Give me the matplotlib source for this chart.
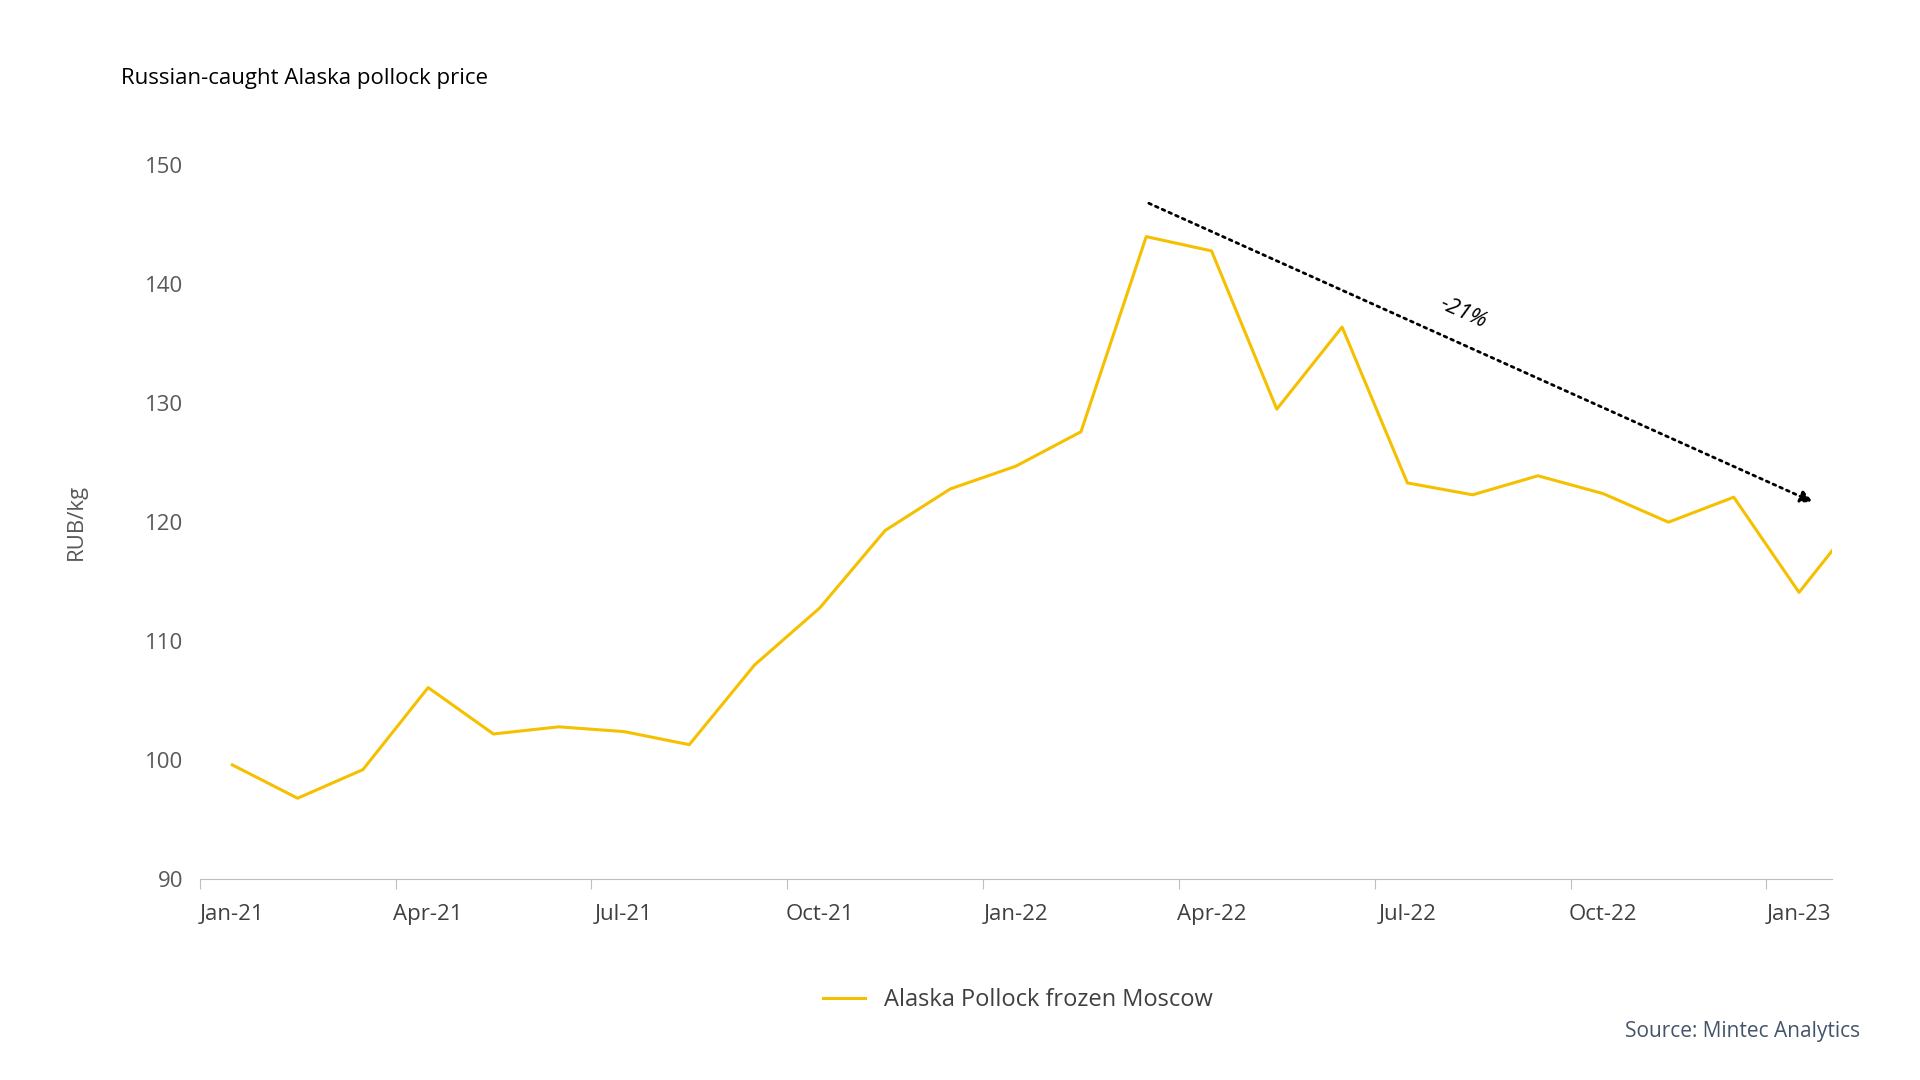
import matplotlib.pyplot as plt

months = ['Jan-21', 'Feb-21', 'Mar-21', 'Apr-21', 'May-21', 'Jun-21', 'Jul-21', 'Aug-21',
          'Sep-21', 'Oct-21', 'Nov-21', 'Dec-21', 'Jan-22', 'Feb-22', 'Mar-22', 'Apr-22',
          'May-22', 'Jun-22', 'Jul-22', 'Aug-22', 'Sep-22', 'Oct-22', 'Nov-22', 'Dec-22',
          'Jan-23', 'Feb-23']
price = [99.6, 96.8, 99.2, 106.1, 102.2, 102.8, 102.4, 101.3, 108.0, 112.8, 119.3, 122.8,
         124.7, 127.6, 144.0, 142.8, 129.5, 136.4, 123.3, 122.3, 123.9, 122.4, 120.0, 122.1,
         114.1, 121.0]

plt.rcParams['font.family'] = ['Open Sans', 'DejaVu Sans']
fig = plt.figure(figsize=(19.2, 10.8), dpi=100)
ax = fig.add_axes([0.104, 0.186, 0.85, 0.661])

x = list(range(len(months)))
ax.plot(x, price, color='#F5C000', lw=2.2, label='Alaska Pollock frozen Moscow')
ax.set_xlim(-0.5, 24.5)
ax.set_ylim(90, 150)
ax.set_yticks(range(90, 151, 10))
ax.set_xticks([i - 0.5 for i in range(0, 25, 3)])
ax.set_xticklabels([])
ax.set_xticks(list(range(0, 25, 3)), minor=True)
ax.set_xticklabels([months[i] for i in range(0, 25, 3)], minor=True)
ax.tick_params(axis='x', which='minor', length=0, labelsize=16, colors='#404040', pad=18)
ax.tick_params(axis='x', which='major', length=7, color='#BFBFBF')
ax.tick_params(axis='y', length=0, labelsize=16, colors='#595959', pad=12)
for s in ['top', 'right', 'left']:
    ax.spines[s].set_visible(False)
ax.spines['bottom'].set_color('#BFBFBF')
ax.set_ylabel('RUB/kg', fontsize=16, color='#595959', labelpad=42)

ax.annotate('', xy=(24.25, 121.6), xytext=(14.0, 146.9),
            arrowprops=dict(arrowstyle='-|>', linestyle=':', lw=2, color='black', mutation_scale=18))
ax.text(18.85, 137.6, '-21%', rotation=-24, fontsize=16, ha='center', va='center', style='italic')

fig.text(0.063, 0.927, 'Russian-caught Alaska pollock price', fontsize=16, va='center')
fig.legend(loc='center', bbox_to_anchor=(0.53, 0.074), frameon=False, fontsize=17,
           handlelength=1.8, labelcolor='#404040')
fig.text(0.969, 0.045, 'Source: Mintec Analytics', fontsize=15, ha='right', va='center', color='#44546A')

fig.savefig('out.png', dpi=100, facecolor='white')
